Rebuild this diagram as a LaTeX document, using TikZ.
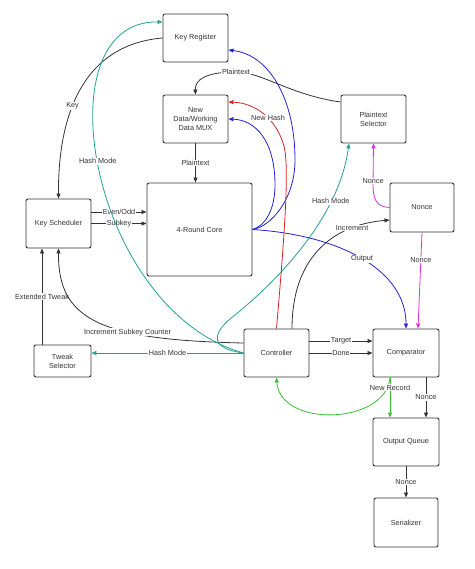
\documentclass[tikz,border=0pt]{standalone}
\usepackage{fontspec}
\setmainfont{Liberation Sans}
\usetikzlibrary{arrows.meta}
\definecolor{txt}{HTML}{333333}
\definecolor{teal1}{HTML}{22A09A}
\definecolor{blue1}{HTML}{2222DD}
\definecolor{red1}{HTML}{D42428}
\definecolor{mag1}{HTML}{E030E0}
\definecolor{green1}{HTML}{38C038}
\tikzset{
  box/.style={draw=txt, rounded corners=2pt, line width=0.9pt, text=txt,
    align=center, inner sep=1pt},
  conn/.style={line width=0.8pt, draw=txt, -{Triangle[length=5pt,width=4pt]}},
  lbl/.style={fill=white, text=txt, inner sep=0.6pt},
}
\begin{document}
\begin{tikzpicture}[x=1pt,y=-1pt, font=\fontsize{7.3}{8.8}\selectfont]
\useasboundingbox (0,0) rectangle (474,569);
% boxes
\node[box, minimum width=65pt, minimum height=48pt] (kr) at (195.5,38) {Key Register};
\node[box, minimum width=65pt, minimum height=48pt] (mux) at (195.5,119) {New\\Data/Working\\Data MUX};
\node[box, minimum width=65pt, minimum height=48pt] (ps) at (373.5,119) {Plaintext\\Selector};
\node[box, minimum width=105pt, minimum height=93pt] (core) at (199.5,229.5) {4-Round Core};
\node[box, minimum width=65pt, minimum height=49pt] (ks) at (58.5,223.5) {Key Scheduler};
\node[box, minimum width=64pt, minimum height=49pt] (nonce) at (422,207.5) {Nonce};
\node[box, minimum width=65pt, minimum height=48pt] (ctrl) at (276.5,353) {Controller};
\node[box, minimum width=66pt, minimum height=48pt] (comp) at (406,353) {Comparator};
\node[box, minimum width=57pt, minimum height=32pt] (tw) at (62.5,361) {Tweak\\Selector};
\node[box, minimum width=66pt, minimum height=48pt] (oq) at (406,442) {Output Queue};
\node[box, minimum width=64pt, minimum height=49pt] (ser) at (406,522.5) {Serializer};

% Key
\draw[conn] (kr.west) .. controls (80,45) and (58,120) .. (ks.north)
  node[lbl, pos=0.58] (lkey) {Key};
% Plaintext selector -> MUX
\draw[conn] ([yshift=17pt]ps.west) .. controls (290,95) and (262,72) .. (236,72)
  node[lbl] (lpt1) {Plaintext} .. controls (205,72) and (195,80) .. (mux.north);
% MUX -> core
\draw[conn] (mux.south) -- (mux.south |- core.north) node[lbl, midway] (lpt2) {Plaintext};
% Key scheduler -> core
\draw[conn] ([yshift=11.5pt]ks.east) -- ([yshift=11.5pt]ks.east -| core.west)
  node[lbl, midway] (leo) {Even/Odd};
\draw[conn] (ks.east) -- (ks.east -| core.west) node[lbl, midway] (lsk) {Subkey};
% Tweak -> key scheduler
\draw[conn] ([xshift=-20.5pt]tw.north) -- ([xshift=-16.5pt]ks.south)
  node[lbl, midway] (let) {Extended Tweak};
% Increment subkey counter
\draw[conn] ([yshift=10pt]ctrl.west) .. controls (100,340) and (58,320) .. (ks.south)
  node[lbl, pos=0.35] (lisc) {Increment Subkey Counter};
% teal hash mode lines
\draw[conn, draw=teal1, teal1] (ctrl.west) .. controls (90,310) and (40,20) .. ([yshift=16pt]kr.west)
  node[lbl, pos=0.52] (lhm1) {Hash Mode};
\draw[conn, draw=teal1, teal1] (ctrl.west) .. controls (205,348) and (215,330) .. (235,315)
  .. controls (290,270) and (340,210) .. ([xshift=-24.5pt]ps.south)
  node[lbl, pos=0.7] (lhm2) {Hash Mode};
\draw[conn, draw=teal1, teal1] (ctrl.west) -- ([yshift=8pt]tw.east)
  node[lbl, midway] (lhm3) {Hash Mode};
% blue output lines
\draw[conn, draw=blue1, blue1] (core.east) .. controls (270,227) and (295,200) .. (295,160)
  .. controls (295,100) and (270,55) .. ([yshift=-12pt]kr.east);
\draw[conn, draw=blue1, blue1] (core.east) .. controls (265,226) and (275,210) .. (275,185)
  .. controls (275,140) and (255,120) .. (mux.east);
\draw[conn, draw=blue1, blue1] (core.east) .. controls (340,235) and (406,270) .. (comp.north)
  node[lbl, pos=0.5] (lout) {Output};
% red new hash
\draw[conn, draw=red1, red1] (ctrl.north) .. controls (285,230) and (290,160) .. (283,143)
  .. controls (275,118) and (255,103) .. ([yshift=17pt]mux.east)
  node[lbl, pos=0.4] (lnh) {New Hash};
% increment
\draw[conn] ([xshift=15.5pt]ctrl.north) .. controls (292,260) and (330,225) .. ([yshift=-12.5pt]nonce.west)
  node[lbl, pos=0.77] (linc) {Increment};
% nonce magenta
\draw[conn, draw=mag1, mag1] (nonce.west) .. controls (377,207) and (373,200) .. (373,185)
  -- (ps.south) node[lbl, pos=0.1] (ln1) {Nonce};
\draw[conn, draw=mag1, mag1] (nonce.south) -- ([xshift=12pt]comp.north)
  node[lbl, pos=0.29] (ln2) {Nonce};
% controller -> comparator
\draw[conn] ([yshift=12pt]ctrl.east) -- ([yshift=12pt]comp.west) node[lbl, midway] (ltg) {Target};
\draw[conn] (ctrl.east) -- (comp.west) node[lbl, midway] (ldn) {Done};
% green
\draw[conn, draw=green1, green1] ([xshift=-16pt]comp.south) .. controls (386,425) and (280,428) .. (ctrl.south);
\draw[conn, draw=green1, green1] ([xshift=-16pt]comp.south) -- ([xshift=-16pt]oq.north)
  node[lbl, pos=0.25] (lnr) {New Record};
% nonce to output queue, serializer
\draw[conn] ([xshift=20pt]comp.south) -- ([xshift=20pt]oq.north) node[lbl, midway] (ln3) {Nonce};
\draw[conn] (oq.south) -- (ser.north) node[lbl, midway] (ln4) {Nonce};
\end{tikzpicture}
\end{document}
